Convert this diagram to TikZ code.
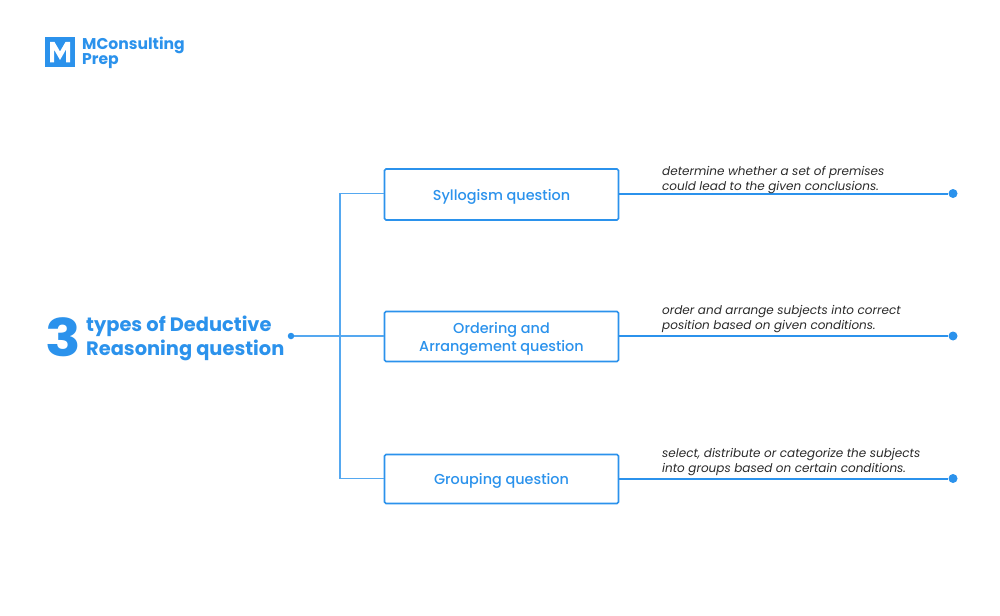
\documentclass[tikz,border=0pt]{standalone}
\usepackage{fontspec}
\setmainfont{Poppins}
\newfontfamily\medfont{Poppins Medium}
\definecolor{brandblue}{HTML}{2B92EC}
\definecolor{ink}{HTML}{2A2A2A}
\newcommand{\lowertext}[1]{\raisebox{-2pt}[\height][\depth]{#1}}
\tikzset{
  x=1pt,y=-1pt,
  qbox/.style={draw=brandblue,line width=1.7pt,rounded corners=1.5pt,fill=white,minimum width=234pt,inner sep=0pt,align=center,text=brandblue,font=\fontsize{14.4}{18}\medfont},
  wire/.style={draw=brandblue!80!white,line width=1.5pt},
  endwire/.style={draw=brandblue,line width=2pt},
  endpoint/.style={circle,fill=brandblue,inner sep=0pt,minimum size=9pt},
  note/.style={anchor=south west,align=left,inner sep=0pt,text=ink,font=\fontsize{12}{14.8}\selectfont\itshape},
  headline/.style={anchor=west,align=left,inner sep=0pt,text=brandblue,font=\fontsize{19.4}{24}\selectfont\bfseries},
}
\begin{document}
\begin{tikzpicture}
\useasboundingbox (0,0) rectangle (1000,615);
\fill[white] (0,0) rectangle (1000,615);
% logo
\fill[brandblue] (45,37) rectangle (75,67);
\fill[white] (50,62.5) -- (50,42) -- (54.5,42) -- (60,51.5) -- (65.5,42) -- (70,42) -- (70,62.5) -- (66,62.5) -- (66,49.5) -- (60,60) -- (54,49.5) -- (54,62.5) -- cycle;
\node[anchor=west,align=left,inner sep=0pt,text=brandblue,font=\fontsize{15.6}{15.5}\selectfont\bfseries] (logotext) at (82,53) {MConsulting\\Prep};
% title
\node[anchor=center,inner sep=0pt,text=brandblue,xscale=1.13,font=\fontsize{52}{52}\selectfont\bfseries] (three) at (63,337.5) {3};
\node[headline] (title) at (86,338) {types of Deductive\\Reasoning question};
\node[endpoint,minimum size=6.5pt] (src) at (291,336) {};
% boxes
\node[qbox,minimum height=51pt] (b1) at (501.5,194.5) {\lowertext{Syllogism question}};
\node[qbox,minimum height=50pt] (b2) at (501.5,336.5) {\lowertext{\shortstack{Ordering and\\Arrangement question}}};
\node[qbox,minimum height=49pt] (b3) at (501.5,479) {\lowertext{Grouping question}};
% end dots
\node[endpoint] (e1) at (953,193.5) {};
\node[endpoint] (e2) at (953,336) {};
\node[endpoint] (e3) at (953,478.5) {};
% connectors
\draw[wire] (src) -- (b2.west |- src);
\draw[wire] (b1.west |- e1) -- (340,193.5) -- (340,478.5) -- (b3.west |- e3);
\draw[endwire] (b1.east |- e1) -- (e1);
\draw[endwire] (b2.east |- e2) -- (e2);
\draw[endwire] (b3.east |- e3) -- (e3);
% notes
\node[note] (n1) at (662,193.5) {determine whether a set of premises\\could lead to the given conclusions.};
\node[note] (n2) at (662,332.5) {order and arrange subjects into correct\\position based on given conditions.};
\node[note] (n3) at (662,475.5) {select, distribute or categorize the subjects\\into groups based on certain conditions.};
\end{tikzpicture}
\end{document}
